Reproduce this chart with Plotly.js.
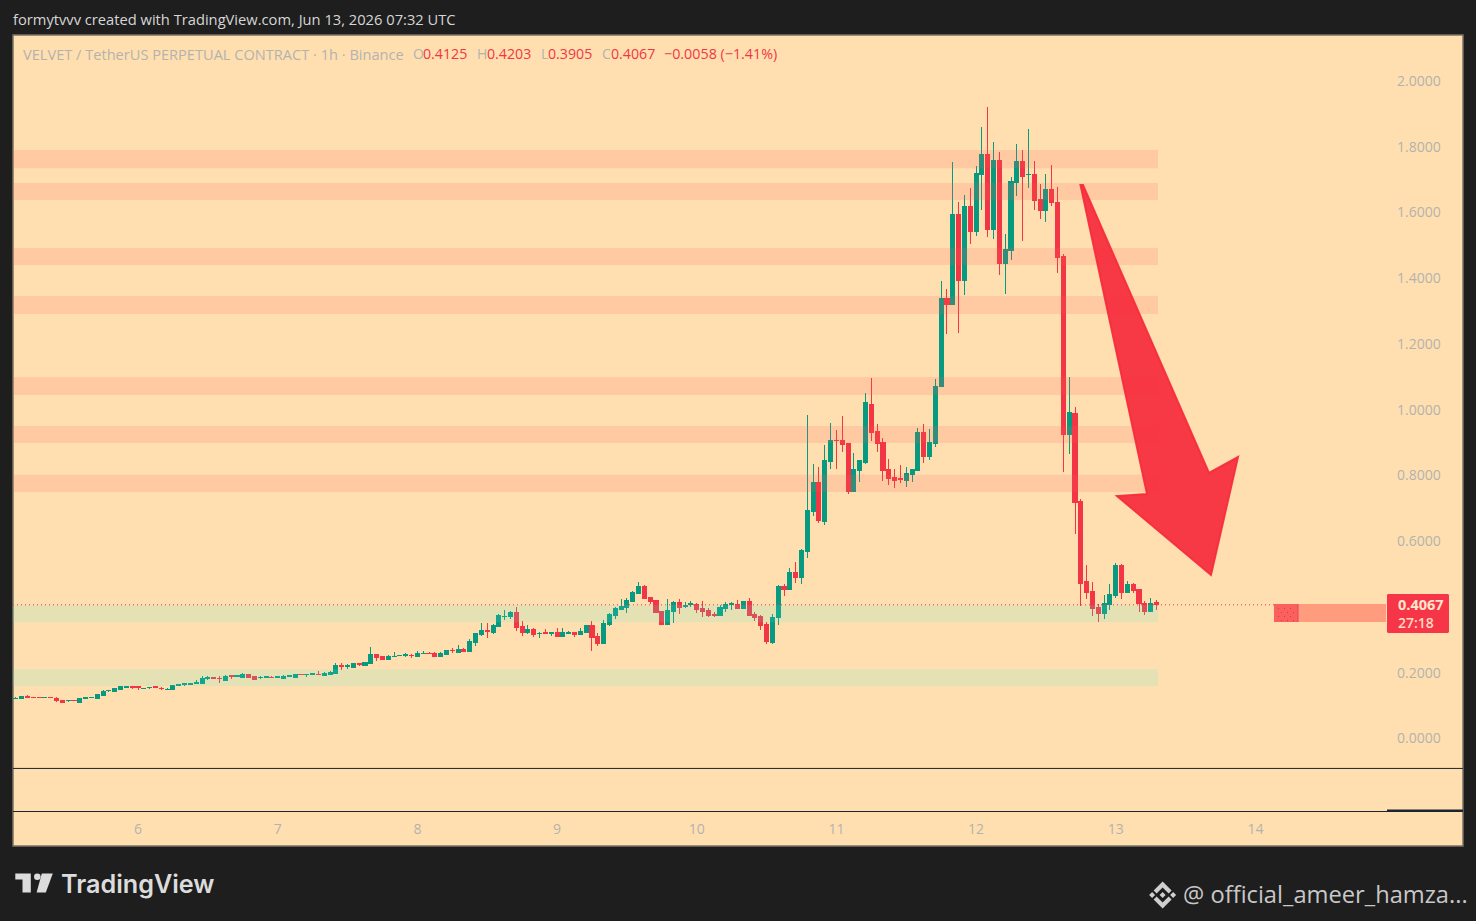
<!DOCTYPE html>
<html>
<head>
<meta charset="utf-8">
<script src="https://cdn.plot.ly/plotly-3.0.1.min.js"></script>
<style>html,body{margin:0;padding:0;background:#1e1e1e;overflow:hidden}#chart{width:1476px;height:921px}
.boxlayer path{shape-rendering:crispEdges}</style>
</head>
<body>
<div id="chart"></div>
<script>
const opens = [
.122,.121,.129,.126,.126,.125,.126,.123,.117,.115,
.117,.111,.123,.125,.123,.132,.146,.144,.148,.155,
.157,.157,.152,.155,.157,.153,.149,.148,.162,.164,
.164,.167,.166,.183,.185,.184,.178,.191,.189,.187,
.196,.190,.185,.186,.187,.186,.184,.189,.187,.196,
.194,.195,.196,.193,.196,.199,.221,.219,.217,.227,
.221,.227,.257,.248,.239,.249,.252,.253,.254,.248,
.258,.260,.260,.251,.257,.269,.263,.272,.266,.291,
.315,.329,.324,.342,.370,.370,.382,.342,.324,.333,
.318,.321,.319,.321,.309,.319,.321,.315,.324,.345,
.309,.288,.348,.373,.391,.400,.418,.440,.461,.430,
.421,.385,.348,.385,.415,.403,.408,.409,.394,.388,
.376,.373,.397,.408,.409,.397,.418,.376,.370,.348,
.293,.367,.461,.452,.506,.491,.570,.692,.780,.659,
.844,.908,.908,.896,.750,.814,.841,1.017,.935,.899,
.817,.795,.790,.786,.802,.814,.932,.859,.896,1.072,
1.337,1.319,1.595,1.392,1.617,1.541,1.717,1.778,1.547,1.757,
1.446,1.486,1.690,1.754,1.715,1.717,1.641,1.605,1.671,1.632,
1.465,.926,.990,.722,.479,.446,.400,.379,.409,.436,
.525,.443,.470,.452,.412,.385,.4125];
const highs = [
.126,.129,.132,.126,.126,.126,.126,.126,.117,.117,
.117,.123,.126,.126,.135,.148,.148,.151,.160,.157,
.160,.157,.155,.157,.157,.157,.153,.162,.166,.167,
.166,.178,.190,.190,.187,.190,.194,.194,.193,.200,
.196,.190,.190,.190,.190,.190,.193,.193,.196,.196,
.196,.199,.205,.202,.205,.230,.230,.227,.227,.231,
.230,.278,.257,.251,.254,.263,.255,.260,.258,.266,
.266,.262,.263,.263,.269,.275,.284,.275,.303,.321,
.351,.351,.348,.379,.391,.388,.400,.357,.345,.336,
.324,.333,.324,.336,.336,.327,.321,.336,.345,.357,
.321,.360,.382,.400,.424,.427,.449,.476,.467,.430,
.421,.388,.424,.418,.424,.415,.418,.412,.418,.397,
.385,.406,.415,.415,.421,.418,.427,.385,.376,.354,
.379,.467,.470,.519,.537,.576,.984,.835,.826,.893,
.960,.938,.981,.896,.868,.847,1.051,1.097,.957,.914,
.850,.820,.832,.826,.820,.944,.957,.941,1.094,1.392,
1.367,1.754,1.632,1.653,1.675,1.741,1.860,1.921,1.814,1.784,
1.535,1.708,1.808,1.790,1.854,1.757,1.687,1.717,1.744,1.678,
1.474,1.100,1.008,.728,.528,.476,.409,.436,.470,.534,
.531,.479,.473,.455,.418,.427,.4203];
const lows = [
.120,.121,.125,.125,.125,.125,.125,.111,.111,.111,
.116,.111,.120,.125,.123,.132,.141,.144,.148,.155,
.151,.148,.151,.151,.155,.148,.148,.148,.161,.161,
.164,.166,.166,.178,.181,.170,.175,.181,.187,.187,
.187,.181,.181,.184,.184,.184,.184,.189,.187,.192,
.188,.193,.193,.193,.196,.199,.208,.211,.217,.221,
.221,.227,.236,.239,.239,.248,.250,.248,.246,.248,
.257,.257,.251,.251,.257,.260,.261,.266,.266,.281,
.312,.306,.318,.339,.360,.364,.327,.312,.318,.309,
.306,.318,.312,.309,.309,.318,.309,.315,.324,.266,
.281,.288,.342,.364,.391,.382,.418,.440,.427,.409,
.382,.348,.348,.351,.379,.397,.400,.382,.370,.370,
.370,.373,.385,.391,.394,.394,.373,.357,.330,.288,
.287,.345,.433,.452,.473,.470,.549,.677,.656,.650,
.820,.820,.871,.744,.750,.780,.835,.905,.871,.783,
.771,.762,.777,.765,.780,.814,.838,.847,.887,1.072,
1.230,1.319,1.233,1.349,1.504,1.529,1.608,1.525,1.519,1.410,
1.352,1.456,1.650,1.513,1.675,1.608,1.580,1.571,1.620,1.416,
.811,.865,.622,.403,.424,.373,.354,.363,.391,.427,
.424,.443,.443,.385,.376,.385,.3905];
const closes = [
.123,.129,.125,.125,.125,.126,.125,.115,.111,.116,
.116,.123,.124,.126,.135,.144,.147,.151,.158,.157,
.155,.155,.153,.156,.155,.152,.150,.160,.164,.166,
.166,.169,.184,.185,.183,.182,.190,.189,.191,.196,
.187,.181,.187,.188,.185,.188,.190,.191,.196,.194,
.196,.197,.194,.199,.202,.221,.219,.221,.227,.225,
.230,.257,.245,.239,.248,.251,.254,.255,.252,.260,
.260,.258,.251,.260,.269,.267,.272,.266,.294,.318,
.330,.327,.345,.373,.372,.382,.339,.324,.333,.315,
.320,.319,.321,.309,.321,.321,.315,.327,.345,.306,
.288,.351,.376,.394,.403,.421,.443,.461,.427,.418,
.382,.348,.388,.415,.400,.405,.410,.391,.385,.373,
.374,.400,.409,.410,.397,.418,.373,.367,.345,.294,
.369,.461,.452,.506,.491,.573,.695,.780,.662,.847,
.908,.906,.893,.750,.817,.847,1.021,.932,.896,.814,
.792,.786,.788,.805,.817,.932,.859,.899,1.072,1.337,
1.319,1.595,1.392,1.617,1.541,1.720,1.778,1.547,1.757,1.446,
1.489,1.693,1.754,1.711,1.717,1.638,1.605,1.671,1.629,1.462,
.926,.993,.719,.473,.443,.397,.379,.412,.439,.525,
.443,.470,.449,.412,.385,.412,.4067];

const firstCandleUTC = Date.UTC(2026, 5, 5, 3);
const times = opens.map((_, i) => new Date(firstCandleUTC + i * 3600000).toISOString().slice(0, 16).replace('T', ' '));

const priceTicks = [0, .2, .6, .8, 1, 1.2, 1.4, 1.6, 1.8, 2];
const priceTickText = ['0.0000','0.2000','0.6000','0.8000','1.0000','1.2000','1.4000','1.6000','1.8000','2.0000'];
const dayTicks = ['2026-06-06','2026-06-07','2026-06-08','2026-06-09','2026-06-10','2026-06-11','2026-06-12','2026-06-13','2026-06-14'];
const dayTickText = ['6','7','8','9','10','11','12','13','14'];

const resistanceZones = [[1.735,1.790],[1.638,1.690],[1.440,1.492],[1.291,1.346],[1.045,1.100],[.899,.951],[.750,.802]];
const supportZones = [[.354,.406],[.160,.211]];
const lastPrice = 0.4067;

const W = 1476, H = 921, L = 13, R = 1463, T = 35, B = 811;
const px = v => (v - L) / (R - L);
const py = v => (B - v) / (B - T);
const xStart = '2026-06-05 02:31', xEnd = '2026-06-15 11:40', zoneEnd = '2026-06-13 07:16';
const polyPath = pts => 'M' + pts.map(p => px(p[0]) + ',' + py(p[1])).join('L') + 'Z';
const rectPx = (x0, y0, x1, y1, fill, layer) => ({type:'rect', xref:'paper', yref:'paper', x0:px(x0), x1:px(x1), y0:py(y0), y1:py(y1), fillcolor:fill, line:{width:0}, layer:layer||'above'});

const shapes = [];
shapes.push({type:'rect', xref:'paper', yref:'paper', x0:px(13), x1:px(1463), y0:py(35), y1:py(846), fillcolor:'#ffdfb0', line:{color:'#7a7466', width:1.5}, layer:'below'});
resistanceZones.forEach(z => shapes.push({type:'rect', xref:'x', yref:'y', x0:xStart, x1:zoneEnd, y0:z[0], y1:z[1], fillcolor:'rgba(255,96,89,0.16)', line:{width:0}, layer:'above'}));
supportZones.forEach(z => shapes.push({type:'rect', xref:'x', yref:'y', x0:xStart, x1:zoneEnd, y0:z[0], y1:z[1], fillcolor:'rgba(75,240,215,0.15)', line:{width:0}, layer:'above'}));
shapes.push({type:'line', xref:'paper', yref:'y', x0:0, x1:1, y0:-0.091, y1:-0.091, line:{color:'#1c2430', width:1}, layer:'above'});
shapes.push({type:'line', xref:'paper', yref:'paper', x0:px(1387), x1:1, y0:py(810.5), y1:py(810.5), line:{color:'#1c2430', width:2}, layer:'above'});
shapes.push({type:'line', xref:'paper', yref:'y', x0:0, x1:px(1387), y0:lastPrice, y1:lastPrice, line:{color:'#f23645', width:1, dash:'1px,3px'}, layer:'above'});
shapes.push(rectPx(1274, 604, 1298, 622, '#fb5f5e'));
shapes.push(rectPx(1298, 604, 1386, 622, '#ff9c7e'));
shapes.push({type:'line', xref:'paper', yref:'paper', x0:px(1298), x1:px(1298), y0:py(604), y1:py(622), line:{color:'#e04a4e', width:1}, layer:'above'});
[[1278,608],[1284,608],[1290,608],[1281,612],[1287,612],[1293,612],[1278,616],[1284,616],[1290,616],[1281,620],[1287,620],[1293,620]].forEach(d =>
  shapes.push(rectPx(d[0], d[1], d[0]+1, d[1]+1, '#d93a44')));
shapes.push({type:'path', xref:'paper', yref:'paper', path:polyPath([[1388,594],[1448,594],[1449,595],[1449,632],[1448,633],[1388,633],[1387,632],[1387,595]]), fillcolor:'#f63648', line:{width:0}, layer:'above'});
shapes.push({type:'path', xref:'paper', yref:'paper',
  path:polyPath([[1080.5,185],[1083,185],[1209,473],[1238,457],[1211,575],[1117,496],[1147,494]]),
  fillcolor:'rgba(246,44,60,0.93)', line:{color:'rgba(246,44,60,0.93)', width:2}, layer:'above'});
shapes.push({type:'path', xref:'paper', yref:'paper', path:polyPath([[15.3,873.5],[30.8,873.5],[30.8,892.5],[22.5,892.5],[22.5,879.5],[15.3,879.5]]), fillcolor:'#dcdcdc', line:{width:0}, layer:'above'});
shapes.push({type:'circle', xref:'paper', yref:'paper', x0:px(34), x1:px(40.6), y0:py(873.5), y1:py(880), fillcolor:'#dcdcdc', line:{width:0}, layer:'above'});
shapes.push({type:'path', xref:'paper', yref:'paper', path:polyPath([[41.8,873.5],[52.8,873.5],[45.8,892.5],[36.6,892.5]]), fillcolor:'#dcdcdc', line:{width:0}, layer:'above'});
const ic = [1162.6, 895];
const icon = pts => ({type:'path', xref:'paper', yref:'paper', path:polyPath(pts.map(p => [ic[0]+p[0], ic[1]+p[1]])), fillcolor:'#cfcfcf', line:{width:0}, layer:'above'});
shapes.push(icon([[0,-13.5],[9,-4.5],[6,-1.5],[0,-7.5],[-6,-1.5],[-9,-4.5]]));
shapes.push(icon([[0,13.5],[9,4.5],[6,1.5],[0,7.5],[-6,1.5],[-9,4.5]]));
shapes.push(icon([[-13.5,0],[-10.5,-3],[-7.5,0],[-10.5,3]]));
shapes.push(icon([[13.5,0],[10.5,-3],[7.5,0],[10.5,3]]));
shapes.push(icon([[0,-3],[3,0],[0,3],[-3,0]]));

const F = '"Open Sans", sans-serif';
const GREY = '#b3b3ae', RED = '#f23645';
const text = (t, x, y, size, color, anchor, family, weight) => ({xref:'paper', yref:'paper', x:px(x), y:py(y), text:t, showarrow:false, xanchor:anchor||'left', yanchor:'middle', font:{size:size, color:color, family:family||F, weight:weight||400}, borderpad:0, borderwidth:0});
const annotations = [
  text('formytvvv created with TradingView.com, Jun 13, 2026 07:32 UTC', 13, 19, 14.7, '#d6d6d6'),
  text('VELVET / TetherUS PERPETUAL CONTRACT · 1h · Binance', 23, 53.5, 14.6, GREY),
  text('O', 413, 53.5, 14, GREY), text('0.4125', 423, 53.5, 14.2, RED),
  text('H', 477, 53.5, 14, GREY), text('0.4203', 487, 53.5, 14.2, RED),
  text('L', 541, 53.5, 14, GREY), text('0.3905', 548, 53.5, 14.2, RED),
  text('C', 602, 53.5, 14, GREY), text('0.4067', 611, 53.5, 14.2, RED),
  text('−0.0058 (−1.41%)', 664, 53.5, 14.3, RED),
  text('0.4067', 1398, 604.5, 14.5, '#ffe6cc', 'left', F, 700),
  text('27:18', 1398, 622.5, 14, '#ffdcc0', 'left', F, 600),
  text('TradingView', 61, 884, 25.2, '#dcdcdc', 'left', 'Inter, sans-serif', 600),
  text('@ official_ameer_hamza...', 1183, 894, 23.7, '#c8c8c8', 'left', '"Open Sans", sans-serif')
];

Plotly.newPlot('chart', [{
  type:'candlestick', x:times, open:opens, high:highs, low:lows, close:closes,
  increasing:{line:{color:'#089981', width:1}, fillcolor:'#089981'},
  decreasing:{line:{color:'#f23645', width:1}, fillcolor:'#f23645'},
  whiskerwidth:0, showlegend:false, hoverinfo:'skip'
}], {
  width:W, height:H, autosize:false, boxgap:0.3, boxgroupgap:0, boxmode:'overlay',
  margin:{l:L, r:W-R, t:T, b:H-B, pad:0},
  paper_bgcolor:'#1e1e1e', plot_bgcolor:'#ffdfb0', showlegend:false,
  xaxis:{type:'date', range:[xStart, xEnd], rangeslider:{visible:false}, showgrid:false, zeroline:false,
    tickmode:'array', tickvals:dayTicks, ticktext:dayTickText, ticks:'', ticklabelstandoff:5,
    showline:true, linecolor:'#1c2430', linewidth:1, tickfont:{size:14, color:GREY, family:F}},
  yaxis:{range:[-0.2205, 2.140], showgrid:false, zeroline:false, side:'right', anchor:'free', position:px(1396),
    tickmode:'array', tickvals:priceTicks, ticktext:priceTickText, ticks:'', showline:false,
    tickfont:{size:14, color:GREY, family:F}},
  shapes:shapes, annotations:annotations, hovermode:false
}, {displayModeBar:false, staticPlot:true});
</script>
</body>
</html>
